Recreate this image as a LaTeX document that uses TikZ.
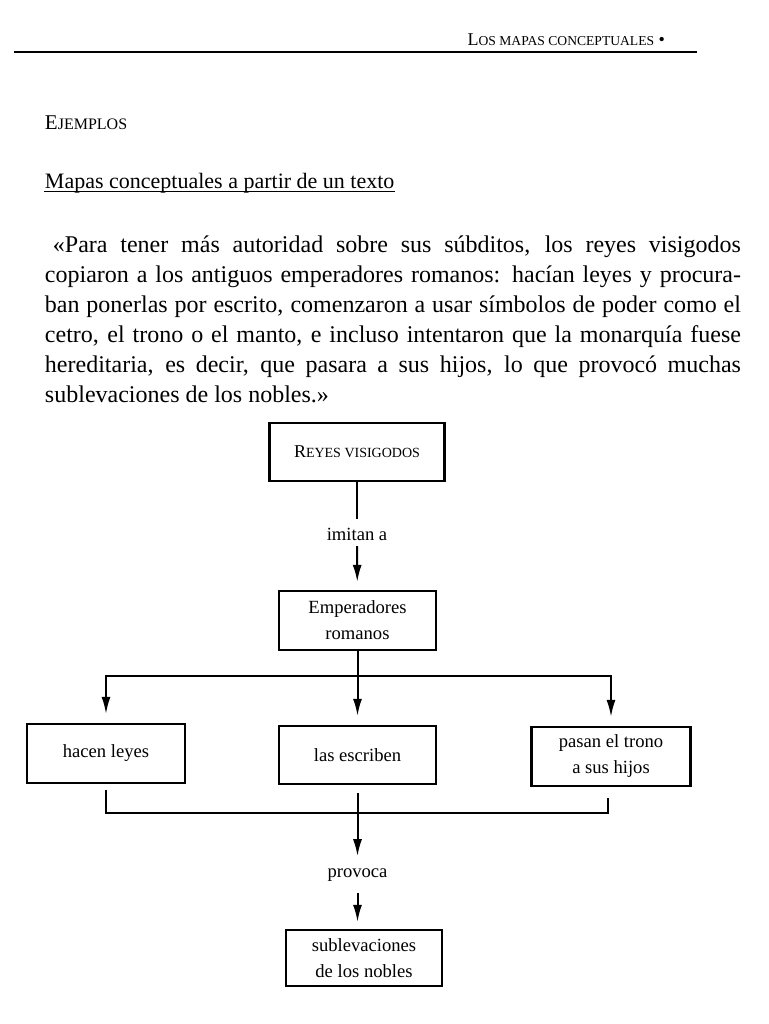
\documentclass[tikz,border=0pt]{standalone}
\usepackage{fontspec}
\setmainfont{Liberation Serif}
\usetikzlibrary{arrows.meta,positioning}

% versalitas fingidas: tamano, inicial, resto
\newcommand{\vers}[3]{#2{\fontsize{#1}{#1}\selectfont\MakeUppercase{#3}}}

\tikzset{
  caja/.style={draw, line width=1.1pt, inner sep=0pt, align=center,
    font=\fontsize{9.3}{13}\selectfont},
  enlace/.style={inner sep=0pt, font=\fontsize{9.3}{11}\selectfont},
  flecha/.style={-{Latex[length=8.5pt,width=4.5pt]}},
}

\begin{document}
\begin{tikzpicture}[x=0.5pt, y=-0.5pt, line width=1pt]
    \useasboundingbox (0,0) rectangle (768,1024);
    % cabecera de pagina
    \node[anchor=base east, inner sep=0pt, font=\fontsize{9}{10}\selectfont] (cabecera) at (666,45)
        {\vers{6.8}{L}{os mapas conceptuales} \textbullet};
    \draw[line width=0.6pt] (14,52) -- (697,52);
    % titulos
    \node[anchor=base west, inner sep=0pt, font=\fontsize{10.5}{12}\selectfont] (ejemplos) at (44,129)
        {\vers{8}{E}{jemplos}};
    \node[anchor=base west, inner sep=0pt, font=\fontsize{11}{13}\selectfont] (titulo) at (44,188)
        {Mapas conceptuales a partir de un texto};
    \draw[line width=0.6pt] ([yshift=-1.8pt]titulo.base west) -- ([yshift=-1.8pt]titulo.base east);
    % texto
    \node[anchor=north west, inner sep=0pt, text width=348pt, align=justify,
        font=\fontsize{12}{15}\selectfont] (texto) at (44,235)
        {\hyphenpenalty=10000\hspace*{4pt}«Para tener más autoridad sobre sus súbditos, los reyes visigodos\linebreak
        copiaron a los antiguos emperadores romanos: hacían leyes y procura-\linebreak
        ban ponerlas por escrito, comenzaron a usar símbolos de poder como el\linebreak
        cetro, el trono o el manto, e incluso intentaron que la monarquía fuese\linebreak
        hereditaria, es decir, que pasara a sus hijos, lo que provocó muchas\linebreak
        sublevaciones de los nobles.»};

    % mapa
    \node[caja, minimum width=87.5pt, minimum height=29pt] (reyes) at (357,452)
        {\fontsize{9}{10}\selectfont\vers{7}{R}{eyes visigodos}};
    \node[enlace, anchor=base] (imitan) at (357,540) {imitan a};
    \node[caja, minimum width=78.5pt, minimum height=29.5pt] (emperadores) at (357.5,620.5)
        {Emperadores\\romanos};
    \node[caja, minimum width=79pt, minimum height=29.5pt] (hacen) at (106,753.5) {hacen leyes};
    \node[caja, minimum width=78.5pt, minimum height=29pt] (escriben) at (357.5,755) {las escriben};
    \node[caja, minimum width=79.5pt, minimum height=29.5pt] (pasan) at (611,756.5)
        {pasan el trono\\a sus hijos};
    \node[enlace, anchor=base] (provoca) at (357.5,877) {provoca};
    \node[caja, minimum width=78pt, minimum height=28pt] (sublevaciones) at (364,958)
        {sublevaciones\\de los nobles};

    \coordinate (reparto) at (357.5,676);
    \coordinate (union) at (357.5,813);

    \draw[shorten >=4pt] (reyes) -- (imitan);
    \draw[flecha, shorten <=2.5pt, shorten >=4pt] (imitan) -- (emperadores);
    \draw (emperadores) -- (reparto);
    \draw[flecha, shorten >=4.5pt] (reparto) -| (hacen);
    \draw[flecha, shorten >=4.5pt] (reparto) -- (escriben);
    \draw[flecha, shorten >=4.5pt] (reparto) -| (pasan);
    \draw ([yshift=-3pt]hacen.south) |- (union) -| ([xshift=-1.5pt,yshift=-5.5pt]pasan.south);
    \draw[flecha, shorten <=4pt, shorten >=5.5pt] (escriben) -- (provoca);
    \draw[flecha, shorten <=5.5pt, shorten >=3.5pt] (provoca.south) -- (provoca.south |- sublevaciones.north);
\end{tikzpicture}
\end{document}
